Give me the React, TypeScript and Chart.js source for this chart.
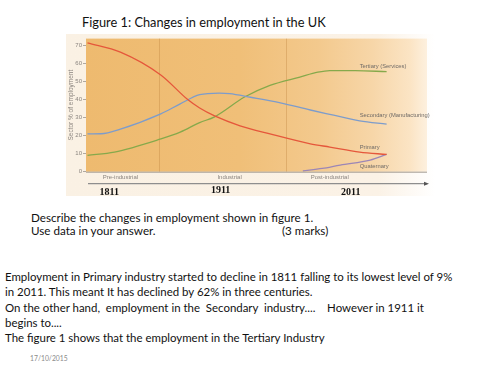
import React, { useEffect, useRef } from "react";
import { Chart, registerables } from "chart.js";

Chart.register(...registerables);

// ---- data ----
const primaryYears = [1811, 1833, 1860, 1878, 1886, 1896, 1913, 1933, 1960, 1973, 1993, 2011];
const primaryValues = [71.6, 66.5, 53.8, 40.1, 35.4, 31, 25.5, 21, 15.5, 13.7, 10.9, 9.6];

const secondaryYears = [1811, 1820, 1833, 1860, 1873, 1886, 1899, 1906, 1920, 1940, 1960, 1973, 1993, 2011];
const secondaryValues = [21, 21.1, 23.7, 32.2, 37.7, 42.8, 43.7, 43.4, 41.4, 38.3, 34.3, 31.9, 28.3, 26.4];

const tertiaryYears = [1811, 1829, 1860, 1873, 1886, 1896, 1916, 1933, 1953, 1965, 1973, 1990, 2011];
const tertiaryValues = [9.1, 10.9, 18.2, 22, 27.3, 30.5, 41.5, 48, 52.6, 55.3, 56.2, 56.2, 55.6];

const quaternaryYears = [1955, 1968, 1980, 2000, 2011];
const quaternaryValues = [0.4, 1.8, 3.7, 6.4, 9.6];

const seriesNames = ["Primary", "Secondary (Manufacturing)", "Tertiary (Services)", "Quaternary"];
const seriesColors = ["#E5573B", "#7D9CCB", "#86A94B", "#9C86B6"];
// label anchors (year, value) for the end-of-line labels
const labelYear = 1993;
const labelValues = [13.4, 31.2, 58.6, 2.7];

const yTicks = [0, 10, 20, 30, 40, 50, 60, 70];
const eraNames = ["Pre-industrial", "Industrial", "Post-industrial"];
const eraCenters = [1833, 1906, 1973];
const eraDividers = [1859, 1944];
const yearLabels = ["1811", "1911", "2011"];
const yearLabelAnchors = [1825.5, 1900, 1987];

const xMin = 1810;
const xMax = 2038;
const yMax = 74;

const toPts = (xs: number[], ys: number[]) => xs.map((x, i) => ({ x, y: ys[i] }));

const decorPlugin = {
  id: "decor",
  beforeDraw(chart: any) {
    const { ctx, chartArea, width, height } = chart;
    const { left, right, top, bottom } = chartArea;
    const xs = chart.scales.x;
    ctx.save();
    // pale paper panel
    let g = ctx.createLinearGradient(0, 0, width, 0);
    g.addColorStop(0, "#FAF1E4");
    g.addColorStop(0.85, "#FBF2E6");
    g.addColorStop(1, "#FFFFFF");
    ctx.fillStyle = g;
    ctx.fillRect(6, 0, width - 6, height - 4);
    // orange plot area
    g = ctx.createLinearGradient(left, 0, right, 0);
    g.addColorStop(0, "#EEBA6F");
    g.addColorStop(0.45, "#F0BF78");
    g.addColorStop(0.68, "#F3C98D");
    g.addColorStop(0.84, "#F7D6A8");
    g.addColorStop(0.95, "#FBE4C4");
    g.addColorStop(1, "#FDF0DE");
    ctx.fillStyle = g;
    ctx.fillRect(left, top, right - left, bottom - top);
    // era dividers
    ctx.strokeStyle = "rgba(190,130,60,0.35)";
    ctx.lineWidth = 1;
    eraDividers.forEach((v) => {
      const px = Math.round(xs.getPixelForValue(v)) + 0.5;
      ctx.beginPath();
      ctx.moveTo(px, top);
      ctx.lineTo(px, bottom);
      ctx.stroke();
    });
    ctx.restore();
  },
  afterDatasetsDraw(chart: any) {
    const { ctx, chartArea } = chart;
    const { left, right, bottom } = chartArea;
    const xs = chart.scales.x;
    const ys = chart.scales.y;
    ctx.save();
    // baseline axis
    ctx.strokeStyle = "#A39B93";
    ctx.lineWidth = 1;
    ctx.beginPath();
    ctx.moveTo(left, bottom + 0.5);
    ctx.lineTo(right, bottom + 0.5);
    ctx.stroke();
    // line labels
    ctx.fillStyle = "#6F6A66";
    ctx.font = "5.8px 'Liberation Sans', Arial, sans-serif";
    ctx.textBaseline = "middle";
    ctx.textAlign = "left";
    seriesNames.forEach((n, i) => {
      ctx.fillText(n, xs.getPixelForValue(labelYear), ys.getPixelForValue(labelValues[i]));
    });
    // era names
    ctx.fillStyle = "#8A847F";
    ctx.font = "6px 'Liberation Sans', Arial, sans-serif";
    ctx.textAlign = "center";
    eraNames.forEach((n, i) => {
      ctx.fillText(n, xs.getPixelForValue(eraCenters[i]), bottom + 6);
    });
    // time arrow
    const ay = bottom + 12;
    ctx.strokeStyle = "#8E8E8E";
    ctx.lineWidth = 1.2;
    ctx.beginPath();
    ctx.moveTo(left + 2, ay);
    ctx.lineTo(right, ay);
    ctx.stroke();
    ctx.fillStyle = "#555";
    ctx.beginPath();
    ctx.moveTo(right + 2, ay);
    ctx.lineTo(right - 3, ay - 2);
    ctx.lineTo(right - 3, ay + 2);
    ctx.closePath();
    ctx.fill();
    // years
    ctx.fillStyle = "#111";
    ctx.font = "bold 10px 'Liberation Serif', 'Times New Roman', serif";
    ctx.textAlign = "center";
    const yearY = [bottom + 21, bottom + 18.5, bottom + 20.5];
    yearLabels.forEach((t, i) => {
      ctx.fillText(t, xs.getPixelForValue(yearLabelAnchors[i]), yearY[i]);
    });
    ctx.restore();
  },
};

function EmploymentChart() {
  const ref = useRef<HTMLCanvasElement | null>(null);
  useEffect(() => {
    if (!ref.current) return;
    const mk = (i: number, xs: number[], vs: number[]) => ({
      label: seriesNames[i],
      data: toPts(xs, vs),
      borderColor: seriesColors[i],
      backgroundColor: seriesColors[i],
      borderWidth: 1.3,
      pointRadius: 0,
      fill: false,
      cubicInterpolationMode: "monotone" as const,
    });
    const chart = new Chart(ref.current, {
      type: "line",
      data: {
        datasets: [
          mk(0, primaryYears, primaryValues),
          mk(1, secondaryYears, secondaryValues),
          mk(2, tertiaryYears, tertiaryValues),
          mk(3, quaternaryYears, quaternaryValues),
        ],
      },
      options: {
        animation: false,
        responsive: false,
        maintainAspectRatio: false,
        layout: { padding: { left: 0, right: 8, top: 3, bottom: 28.3 } },
        plugins: { legend: { display: false }, tooltip: { enabled: false } },
        scales: {
          x: { type: "linear", min: xMin, max: xMax, display: false },
          y: {
            min: 0,
            max: yMax,
            afterBuildTicks: (s: any) => {
              s.ticks = yTicks.map((v) => ({ value: v }));
            },
            afterFit: (s: any) => {
              s.width = 26;
            },
            border: { display: false },
            grid: { drawOnChartArea: false, tickLength: 3, color: "#9A948E", lineWidth: 0.8 },
            ticks: {
              font: { size: 6, family: "'Liberation Sans', Arial, sans-serif" },
              color: "#8A847F",
              padding: 1,
            },
            title: {
              display: true,
              text: "Sector % of employment",
              color: "#8A847F",
              font: { size: 6.5, family: "'Liberation Sans', Arial, sans-serif" },
              padding: { top: 7, bottom: 0 },
            },
          },
        },
      },
      plugins: [decorPlugin],
    });
    return () => chart.destroy();
  }, []);
  return (
    <canvas
      ref={ref}
      width={375}
      height={166}
      style={{ position: "absolute", left: 60, top: 34, width: 375, height: 166 }}
    />
  );
}

const font = "Lato, 'Open Sans', sans-serif";

function Line({ text, x, baseline, size, color = "#111", extra }: any) {
  return (
    <div
      style={{
        position: "absolute",
        left: x,
        top: baseline - 0.987 * size,
        fontFamily: font,
        fontSize: size,
        lineHeight: 1.2,
        whiteSpace: "pre",
        color,
        ...extra,
      }}
    >
      {text}
    </div>
  );
}

export default function App() {
  return (
    <div
      style={{
        position: "fixed",
        left: 0,
        top: 0,
        width: 500,
        height: 375,
        background: "#fff",
        overflow: "hidden",
      }}
    >
      <Line text="Figure 1: Changes in employment in the UK" x={82} baseline={28} size={12.8} />
      <EmploymentChart />
      <Line text="Describe the changes in employment shown in figure 1." x={31} baseline={222} size={11.65} />
      <Line text="Use data in your answer." x={31} baseline={235} size={11.65} />
      <Line text="(3 marks)" x={282} baseline={235} size={11.65} />
      <Line
        text="Employment in Primary industry started to decline in 1811 falling to its lowest level of 9%"
        x={5}
        baseline={281}
        size={11.45}
      />
      <Line text="in 2011. This meant It has declined by 62% in three centuries." x={5} baseline={296.5} size={11.45} />
      <Line
        text="On the other hand,  employment in the  Secondary  industry....    However in 1911 it"
        x={5}
        baseline={312}
        size={11.45}
      />
      <Line text="begins to...." x={5} baseline={327} size={11.45} />
      <Line text="The figure 1 shows that the employment in the Tertiary Industry" x={5} baseline={342} size={11.45} />
      <Line text="17/10/2015" x={30} baseline={360.5} size={6.8} color="#8a8a8a" />
    </div>
  );
}
